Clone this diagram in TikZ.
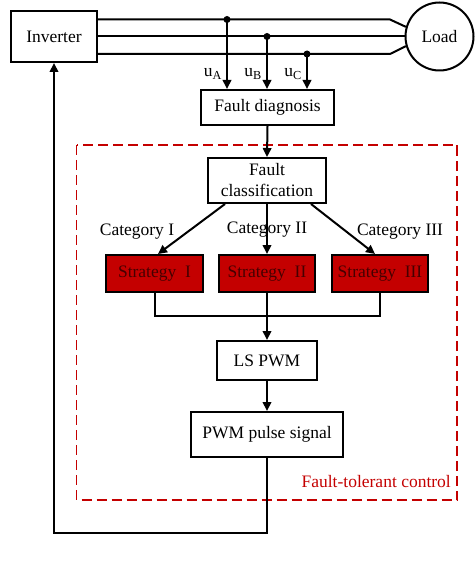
\documentclass[tikz,border=0pt]{standalone}
\usepackage{fontspec}
\setmainfont{Liberation Serif}
\usetikzlibrary{arrows.meta}
\definecolor{fred}{RGB}{196,0,0}
\definecolor{ftxt}{RGB}{70,0,0}
\tikzset{
  box/.style={draw, line width=2pt, inner sep=0pt, align=center, fill=white},
  strat/.style={box, fill=fred, text=ftxt, minimum width=97pt, minimum height=37pt},
  wire/.style={line width=2pt},
  arr/.style={wire, -{Triangle[length=9pt,width=8.5pt]}},
  dot/.style={circle, fill=black, inner sep=0pt, minimum size=7pt},
  lbl/.style={inner sep=0pt},
}
\begin{document}
\begin{tikzpicture}[x=1pt,y=-1pt, font=\fontsize{17.5}{21}\selectfont]
\useasboundingbox (0,0) rectangle (474,564);
% frame of fault-tolerant control
\draw[fred, line width=1.8pt, dash pattern=on 10pt off 5pt] (76.5,145) rectangle (457,500);
\node[lbl, text=fred, anchor=east] (ftc) at (451,482) {Fault-tolerant control};

\node[box, minimum width=86pt, minimum height=51pt] (inv) at (54,36.5) {Inverter};
\node[draw, circle, line width=2pt, minimum size=68pt, inner sep=0pt] (load) at (439.5,36.5) {Load};
\node[box, minimum width=133pt, minimum height=35pt] (fd) at (267.5,107.5) {Fault diagnosis};
\node[box, minimum width=118pt, minimum height=45pt] (fc) at (267,180.5) {Fault\\classification};
\node[strat] (s1) at (154.5,273.5) {Strategy\enspace I};
\node[strat, minimum width=96pt] (s2) at (267,273.5) {Strategy\enspace II};
\node[strat, minimum width=96pt] (s3) at (380,273.5) {Strategy\enspace III};
\node[box, minimum width=100pt, minimum height=39pt] (ls) at (267,360.5) {LS PWM};
\node[box, minimum width=152pt, minimum height=45pt] (pwm) at (267,434.5) {PWM pulse signal};

% three-phase lines
\coordinate (ta) at (390,19.5);
\coordinate (tb) at (390,36.5);
\coordinate (tc) at (390,54);
\draw[wire] (inv.east |- ta) -- (ta) -- (load.164);
\draw[wire] (inv.east |- tb) -- (load.west);
\draw[wire] (inv.east |- tc) -- (tc) -- (load.196);

\node[dot] (da) at (227,19.5) {};
\node[dot] (db) at (267,36.5) {};
\node[dot] (dc) at (307,54) {};
\draw[arr] (da.center) -- (da.center |- fd.north);
\draw[arr] (db.center) -- (db.center |- fd.north);
\draw[arr] (dc.center) -- (dc.center |- fd.north);
\node[lbl] (ua) at (213,74) {u\textsubscript{A}};
\node[lbl] (ub) at (253,74) {u\textsubscript{B}};
\node[lbl] (uc) at (293,74) {u\textsubscript{C}};

\draw[arr] (fd.south) -- (fc.north);

% categories
\node[lbl] (c1) at (137,232) {Category I};
\node[lbl] (c2) at (267,230) {Category II};
\node[lbl] (c3) at (400,232) {Category III};
\draw[arr] ([xshift=18pt]fc.south west) -- ([xshift=3.5pt]s1.north);
\draw[arr] (fc.south) -- (s2.north);
\draw[arr] ([xshift=-16pt]fc.south east) -- ([xshift=-5pt]s3.north);

% merge
\coordinate (m) at (267,316);
\draw[wire] (s1.south) |- (m) -| (s3.south);
\draw[arr] (s2.south) -- (ls.north);
\draw[arr] (ls.south) -- (pwm.north);

% feedback
\coordinate (fb) at (54,533);
\draw[arr] (pwm.south) |- (fb) -- (inv.south);
\end{tikzpicture}
\end{document}
